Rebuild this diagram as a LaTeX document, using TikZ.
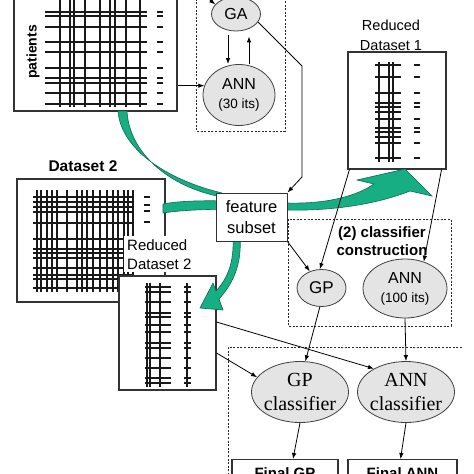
\documentclass[tikz,border=0pt]{standalone}
\usepackage{fontspec}
\setmainfont{Liberation Sans}
\newfontfamily\timesfont{Liberation Serif}
\usepackage{tikz}
\usetikzlibrary{shapes.geometric, arrows.meta, positioning}
\definecolor{sea}{HTML}{17AE84}
\definecolor{seaedge}{HTML}{0C6B50}
\definecolor{shell}{HTML}{E4E4E4}
\tikzset{
  dataset/.style={rectangle, draw=black!80, fill=white, line width=1.1pt, inner sep=0pt},
  unit/.style={ellipse, draw=black!75, fill=shell, line width=0.8pt, align=center, inner sep=0pt, font=\fontsize{16}{19}\selectfont},
  clsf/.style={unit, font=\timesfont\fontsize{20}{24}\selectfont, minimum width=97pt, minimum height=61pt, inner sep=-2pt},
  stage/.style={draw=black!85, line width=1pt, dash pattern=on 2pt off 1.6pt},
  rowline/.style={draw=black!90, line width=1.1pt},
  arrow/.style={-{Latex[length=6pt,width=4.5pt]}, line width=0.8pt},
  band/.style={fill=sea, draw=seaedge, line width=0.6pt},
  caption/.style={align=center, inner sep=0pt, font=\fontsize{15}{19}\selectfont},
}

\begin{document}
\begin{tikzpicture}[x=1pt, y=-1pt]

  \useasboundingbox (0,0) rectangle (474,474);
  \clip (0,0) rectangle (474,474);

  % dataset 1
  \node (ds1) [dataset, minimum width=163pt, minimum height=141pt] at (95.5,40.5) {};
  \foreach \y in {12,16,27,42,52,68,78,83,93,104}
    \draw [rowline] (45,\y) -- (147,\y) (157,\y) -- (163,\y);
  \foreach \x in {60,70,74,85,100,110,115,126,140}
    \draw [rowline] (\x,-30) -- (\x,107);
  \node (patients) [caption, font=\bfseries\fontsize{14}{16}\selectfont, rotate=90] at (33,52) {patients};

  % (1) feature selection
  \draw [stage] (196,-30) rectangle (285,131);
  \node (ga) [unit, minimum width=49pt, minimum height=34pt] at (236,14) {GA};
  \node (ann30) [unit, minimum width=72pt, minimum height=61pt] at (239,95) {ANN\\{\fontsize{13.5}{16}\selectfont(30 its)}};
  \coordinate (gain) at (200,-8);

  % dataset 2
  \node (ds2label) [caption, font=\bfseries\fontsize{15.5}{18}\selectfont] at (83,166) {Dataset 2};
  \node (ds2) [dataset, minimum width=148pt, minimum height=123pt] at (91,240.5) {};
  \foreach \y in {197,202,207,212,223,239,249,253,258,268,275,279,288}
    \draw [rowline] (33,\y) -- (133,\y);
  \foreach \x in {37,41,47,52,57,67,77,82,87,93,100,107,113,118,124,128,133}
    \draw [rowline] (\x,190) -- (\x,292);
  \foreach \y in {197,205,211,222}
    \draw [rowline] (144,\y) -- (150,\y);
  \node (rds2label) [caption, fill=white, align=left, inner sep=3pt, anchor=north west] at (124,236) {Reduced\\Dataset 2};

  % reduced dataset 2
  \node (rds2) [dataset, minimum width=97pt, minimum height=114pt] at (167.5,333) {};
  \foreach \y in {287,292,302,313,317,325,332,343,348,358,368,378,383}
    \draw [rowline] (145,\y) -- (171,\y) (184,\y) -- (191,\y);
  \foreach \x in {147,150,160,187}
    \draw [rowline] (\x,283) -- (\x,387);

  % reduced dataset 1
  \node (rds1) [dataset, minimum width=98pt, minimum height=117pt] at (397,110.5) {};
  \node (rds1label) [caption, font=\fontsize{14.5}{20}\selectfont, above=1pt of rds1, xshift=-6pt] {Reduced\\Dataset 1};
  \foreach \y in {65,77,93,103,107,112,119,128,132,137,143,158}
    \draw [rowline] (375,\y) -- (401,\y);
  \foreach \y in {65,77,93,103,107,119,128,132,143,158}
    \draw [rowline] (414,\y) -- (420,\y);
  \foreach \x in {379,389,393}
    \draw [rowline] (\x,62) -- (\x,162);

  % green flows
  \draw [band] (118,111) .. controls (121,150) and (168,180) .. (222,193) -- (222,197)
    .. controls (168,187) and (129,152) .. (127,111) -- cycle;
  \draw [band] (163,204) .. controls (195,198) and (245,202) .. (287,203)
    .. controls (325,204) and (355,197) .. (374,184) -- (357,180) -- (405,169) -- (432,196) -- (410,191)
    .. controls (372,206) and (325,211) .. (287,210) .. controls (245,209) and (195,208) .. (163,213) -- cycle;
  \draw [band] (233,238) .. controls (234,262) and (228,278) .. (216,291) -- (213,283) -- (200,308)
    -- (223,310) -- (219,299) .. controls (232,285) and (242,265) .. (240,238) -- cycle;

  \node (feature) [dataset, line width=1pt, minimum width=71pt, minimum height=48pt, align=center, font=\fontsize{16.5}{21}\selectfont] at (251.5,217) {feature\\subset};

  % (2) classifier construction
  \draw [stage] (288,219) rectangle (451,326);
  \node (stage2) [caption, font=\bfseries\fontsize{15}{18}\selectfont] at (382,241) {(2) classifier\\construction};
  \node (gp) [unit, minimum width=49pt, minimum height=37pt, font=\fontsize{17}{20}\selectfont] at (321.5,288) {GP};
  \node (ann100) [unit, minimum width=84pt, minimum height=59pt] at (405,288.5) {ANN\\{\fontsize{13.5}{16}\selectfont(100 its)}};

  % final classifiers
  \draw [stage] (462,347) -- (228,347) -- (228,480);
  \node (gpcls) [clsf] at (300,392) {GP\\classifier};
  \node (anncls) [clsf] at (406,392) {ANN\\classifier};
  \node (finalgp) [dataset, anchor=north, minimum width=106pt, text height=19pt, text depth=20pt, font=\bfseries\fontsize{15}{18}\selectfont] at (285,459) {Final GP};
  \node (finalann) [dataset, anchor=north, minimum width=109pt, text height=19pt, text depth=20pt, font=\bfseries\fontsize{15}{18}\selectfont] at (402.5,459) {Final ANN};

  \draw [arrow] (ds1.east |- ann30.165) -- (ann30.165);
  \draw [arrow] (gain) -- (ga.155);
  \draw [arrow] ([xshift=-8pt, yshift=-4pt]ga.south) -- ([xshift=-11pt]ann30.north);
  \draw [arrow] ([xshift=10pt]ann30.north) -- ([xshift=13pt, yshift=-5pt]ga.south);
  \draw [arrow] (ga.340) -- (302,66) -- (302,177) -- (feature.north east);
  \draw [arrow] (feature.south east) -- (gp.125);
  \draw [arrow] ([xshift=2pt]rds1.south west) -- (gp.95);
  \draw [arrow] ([xshift=-5pt]rds1.south east) -- (ann100.55);
  \draw [arrow] ([yshift=11pt]rds2.east) -- (anncls.144);
  \draw [arrow] ([yshift=-20pt]rds2.east) -- (gpcls.161);
  \draw [arrow] (gp.265) -- (gpcls.80);
  \draw [arrow] (ann100.south) -- (anncls.north);
  \draw [arrow] (gpcls.south) -- ([xshift=8pt]finalgp.north);
  \draw [arrow] (anncls.south) -- ([xshift=-2pt]finalann.north);

\end{tikzpicture}
\end{document}
